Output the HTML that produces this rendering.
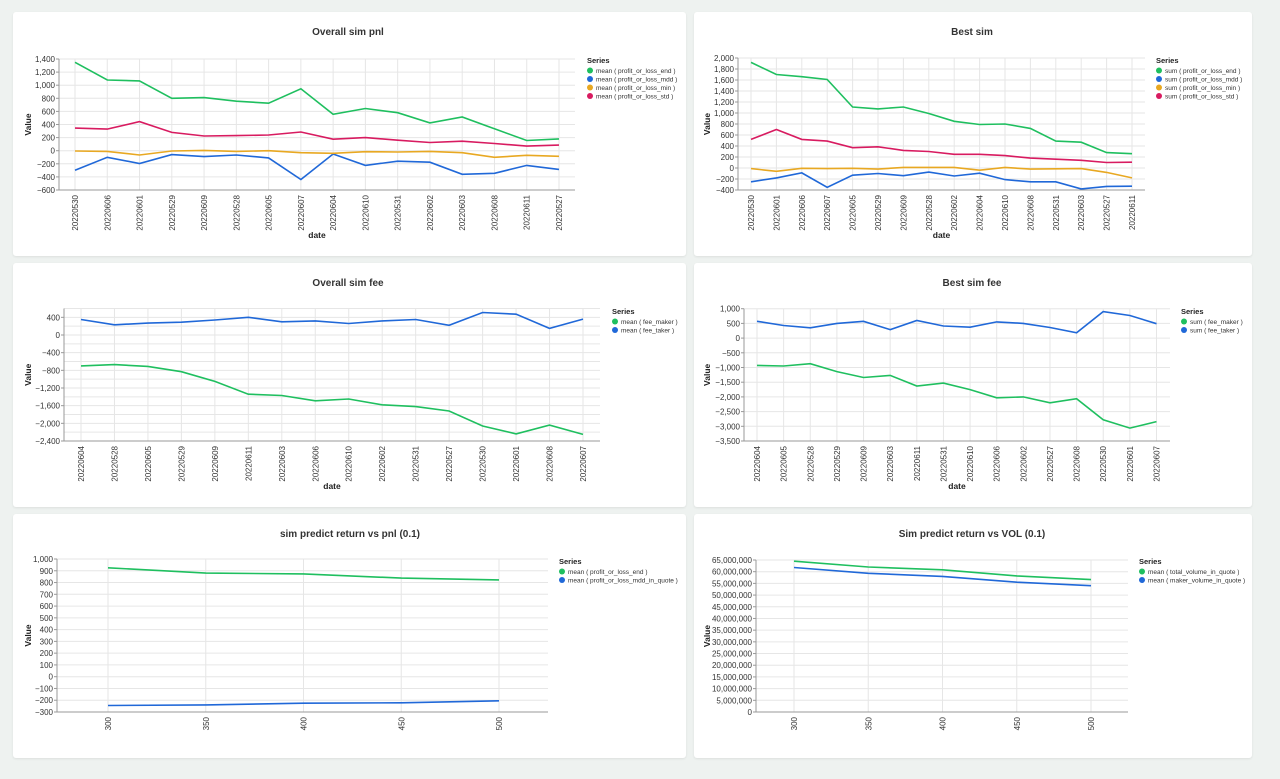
<!DOCTYPE html>
<html><head><meta charset="utf-8"><style>
body{margin:0;width:1280px;height:779px;background:#eef2f0;overflow:hidden;font-family:"Liberation Sans",sans-serif}
.card{position:absolute;background:#fff;border-radius:3px;box-shadow:0 1px 2px rgba(0,0,0,.08)}
svg{position:absolute;left:0;top:0}
</style></head><body>
<div class="card" style="left:13px;top:12px;width:673px;height:244px"></div>
<div class="card" style="left:694px;top:12px;width:558px;height:244px"></div>
<div class="card" style="left:13px;top:263px;width:673px;height:244px"></div>
<div class="card" style="left:694px;top:263px;width:558px;height:244px"></div>
<div class="card" style="left:13px;top:514px;width:673px;height:244px"></div>
<div class="card" style="left:694px;top:514px;width:558px;height:244px"></div>
<svg id="s" width="1280" height="779" xmlns="http://www.w3.org/2000/svg"></svg>
<script>
var G='#1fbf5f',B='#2068d8',Y='#e8a822',P='#d81b60';
var out='';
function fmt(v){return (v<0?'−':'')+Math.abs(v).toLocaleString('en-US');}
function chart(c){
 var x0=c.x0,x1=c.x1,y0=c.y0,y1=c.y1;
 function Y_(v){return y1-(v-c.dmin)/(c.dmax-c.dmin)*(y1-y0);}
 var n=c.xl.length,xs=[];
 for(var i=0;i<n;i++)xs.push(c.px0+(c.px1-c.px0)*i/(n-1));
 // grid
 for(var v=c.dmin;v<=c.dmax+1e-6;v+=c.gstep){var y=Y_(v);out+='<line x1="'+x0+'" x2="'+x1+'" y1="'+y+'" y2="'+y+'" stroke="#e6e6e6" stroke-width="1"/>';}
 xs.forEach(function(x){out+='<line x1="'+x+'" x2="'+x+'" y1="'+y0+'" y2="'+y1+'" stroke="#e6e6e6"/>';});
 out+='<line x1="'+x0+'" x2="'+x0+'" y1="'+y0+'" y2="'+y1+'" stroke="#999"/>';
 out+='<line x1="'+x0+'" x2="'+x1+'" y1="'+y1+'" y2="'+y1+'" stroke="#999"/>';
 for(var v=c.dmin;v<=c.dmax+1e-6;v+=c.lstep){var y=Y_(v);out+='<line x1="'+(x0-3)+'" x2="'+x0+'" y1="'+y+'" y2="'+y+'" stroke="#999"/><text x="'+(x0-4)+'" y="'+(y+3)+'" font-size="8" fill="#333" text-anchor="end">'+(c.fmt?c.fmt(v):fmt(v))+'</text>';}
 xs.forEach(function(x,i){out+='<text transform="translate('+(x+3)+','+(y1+5)+') rotate(-90)" font-size="8" fill="#333" text-anchor="end">'+c.xl[i]+'</text>';});
 c.series.forEach(function(s){var d=s.v.map(function(v,i){return (i?'L':'M')+xs[i].toFixed(1)+','+Y_(v).toFixed(1);}).join('');out+='<path d="'+d+'" fill="none" stroke="'+s.c+'" stroke-width="1.6"/>';});
 out+='<text x="'+c.tx+'" y="'+c.ty+'" font-size="10" font-weight="bold" fill="#333" text-anchor="middle">'+c.title+'</text>';
 var vy=(y0+y1)/2;out+='<text transform="translate('+c.vx+','+vy+') rotate(-90)" font-size="8.5" font-weight="bold" fill="#222" text-anchor="middle">Value</text>';
 if(c.date)out+='<text x="'+((x0+x1)/2)+'" y="'+(y1+48)+'" font-size="8.5" font-weight="bold" fill="#222" text-anchor="middle">date</text>';
 out+='<text x="'+c.lx+'" y="'+(c.ly)+'" font-size="7.5" font-weight="bold" fill="#222">Series</text>';
 c.series.forEach(function(s,i){var y=c.ly+10+i*8.5;out+='<circle cx="'+(c.lx+3)+'" cy="'+(y-2.5)+'" r="3" fill="'+s.c+'"/><text x="'+(c.lx+9)+'" y="'+y+'" font-size="6.5" fill="#333">'+s.n+'</text>';});
}
chart({x0:59,x1:575,y0:59,y1:190,px0:75,px1:559,dmin:-600,dmax:1400,gstep:200,lstep:200,tx:348,ty:35,vx:31,lx:587,ly:63,date:1,title:'Overall sim pnl',
 xl:['20220530','20220606','20220601','20220529','20220609','20220528','20220605','20220607','20220604','20220610','20220531','20220602','20220603','20220608','20220611','20220527'],
 series:[{c:G,n:'mean ( profit_or_loss_end )',v:[1350,1080,1065,800,810,755,725,945,555,645,580,425,515,335,155,180]},
 {c:B,n:'mean ( profit_or_loss_mdd )',v:[-300,-100,-195,-60,-90,-65,-110,-440,-50,-225,-160,-175,-360,-345,-225,-285]},
 {c:Y,n:'mean ( profit_or_loss_min )',v:[-5,-10,-65,-5,5,-10,0,-30,-40,-15,-20,-10,-30,-100,-70,-85]},
 {c:P,n:'mean ( profit_or_loss_std )',v:[345,330,445,280,225,230,240,285,175,200,160,125,145,110,70,85]}]});
chart({x0:738,x1:1145,y0:58,y1:190,px0:751,px1:1132,dmin:-400,dmax:2000,gstep:200,lstep:200,tx:972,ty:35,vx:710,lx:1156,ly:63,date:1,title:'Best sim',
 xl:['20220530','20220601','20220606','20220607','20220605','20220529','20220609','20220528','20220602','20220604','20220610','20220608','20220531','20220603','20220527','20220611'],
 series:[{c:G,n:'sum ( profit_or_loss_end )',v:[1920,1700,1660,1610,1110,1075,1110,990,850,790,800,720,490,470,280,260]},
 {c:B,n:'sum ( profit_or_loss_mdd )',v:[-250,-180,-90,-350,-130,-100,-140,-75,-145,-95,-210,-250,-250,-380,-335,-330]},
 {c:Y,n:'sum ( profit_or_loss_min )',v:[-10,-60,-5,-10,-5,-20,10,10,10,-40,10,-20,-15,-10,-80,-180]},
 {c:P,n:'sum ( profit_or_loss_std )',v:[520,700,520,490,370,385,320,300,250,250,225,180,160,140,100,105]}]});
chart({x0:64,x1:600,y0:308.5,y1:441,px0:81,px1:583,dmin:-2400,dmax:600,gstep:200,lstep:400,tx:348,ty:286,vx:31,lx:612,ly:314,date:1,title:'Overall sim fee',
 fmt:function(v){return v>400?'':fmt(v);},
 xl:['20220604','20220528','20220605','20220529','20220609','20220611','20220603','20220606','20220610','20220602','20220531','20220527','20220530','20220601','20220608','20220607'],
 series:[{c:G,n:'mean ( fee_maker )',v:[-700,-670,-710,-830,-1050,-1340,-1370,-1490,-1450,-1580,-1620,-1720,-2060,-2240,-2040,-2250]},
 {c:B,n:'mean ( fee_taker )',v:[350,230,270,290,340,400,300,320,260,320,350,220,510,470,150,360]}]});
chart({x0:744,x1:1170,y0:308.7,y1:441,px0:757,px1:1156.5,dmin:-3500,dmax:1000,gstep:500,lstep:500,tx:972,ty:286,vx:710,lx:1181,ly:314,date:1,title:'Best sim fee',
 xl:['20220604','20220605','20220528','20220529','20220609','20220603','20220611','20220531','20220610','20220606','20220602','20220527','20220608','20220530','20220601','20220607'],
 series:[{c:G,n:'sum ( fee_maker )',v:[-930,-950,-870,-1140,-1340,-1270,-1630,-1530,-1750,-2030,-2000,-2200,-2060,-2780,-3060,-2840]},
 {c:B,n:'sum ( fee_taker )',v:[570,430,350,500,570,290,600,410,370,550,500,360,180,900,770,490]}]});
chart({x0:57,x1:548,y0:559,y1:712,px0:108,px1:499,dmin:-300,dmax:1000,gstep:100,lstep:100,tx:350,ty:537,vx:31,lx:559,ly:564,title:'sim predict return vs pnl (0.1)',
 xl:['300','350','400','450','500'],
 series:[{c:G,n:'mean ( profit_or_loss_end )',v:[925,880,873,838,822]},
 {c:B,n:'mean ( profit_or_loss_mdd_in_quote )',v:[-245,-240,-225,-222,-205]}]});
chart({x0:756,x1:1128,y0:560,y1:712,px0:794,px1:1091,dmin:0,dmax:65000000,gstep:5000000,lstep:5000000,tx:972,ty:537,vx:710,lx:1139,ly:564,title:'Sim predict return vs VOL (0.1)',
 xl:['300','350','400','450','500'],
 series:[{c:G,n:'mean ( total_volume_in_quote )',v:[64.5e6,62e6,60.8e6,58.2e6,56.6e6]},
 {c:B,n:'mean ( maker_volume_in_quote )',v:[61.8e6,59.3e6,58e6,55.5e6,54e6]}]});
document.getElementById('s').innerHTML=out;
</script>
</body></html>
